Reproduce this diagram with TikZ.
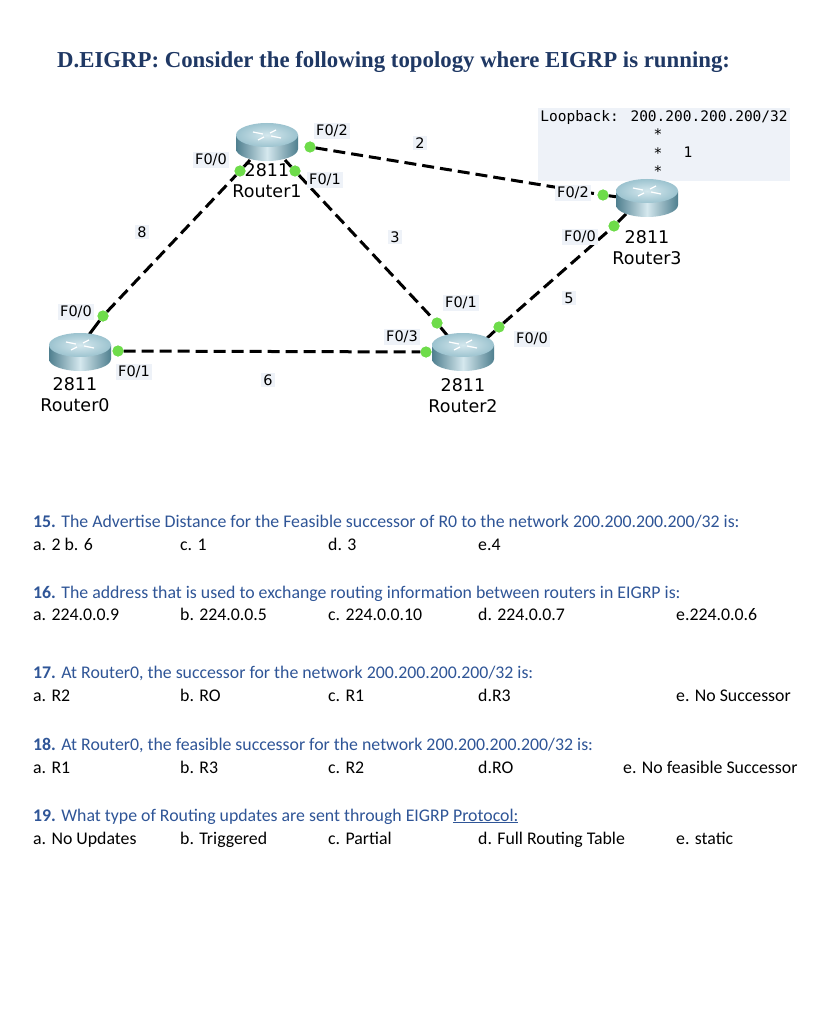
\documentclass[tikz,border=0pt]{standalone}
\usepackage{fontspec}
\setmainfont{Carlito}
\newfontfamily\lbl{DejaVu Sans}
\newfontfamily\ttl{Liberation Serif}
\newfontfamily\mono{DejaVu Sans Mono}
\definecolor{qblue}{HTML}{2F5597}
\definecolor{tblue}{HTML}{1F3864}
\definecolor{lbg}{HTML}{EEF2F8}
\definecolor{dot}{HTML}{6EDC4A}
\definecolor{rdark}{HTML}{4F7F8F}
\definecolor{rmid}{HTML}{9CC3CF}
\definecolor{rlight}{HTML}{D5E8EE}
\begin{document}
\begin{tikzpicture}[x=1pt,y=-1pt,
  link/.style={line width=3pt,dash pattern=on 12pt off 6pt},
  port/.style={circle,fill=dot,inner sep=0pt,minimum size=11pt},
  pl/.style={font=\lbl\fontsize{14.5}{15}\selectfont,fill=lbg,inner sep=2pt},
  rl/.style={font=\lbl\fontsize{17.5}{21}\selectfont,inner sep=0pt,align=center},
  q/.style={font=\fontsize{17.8}{18}\selectfont,anchor=base west,yshift=-6pt,inner sep=0pt,text=qblue},
  o/.style={font=\fontsize{17.8}{18}\selectfont,anchor=base west,yshift=-6pt,inner sep=0pt}]
\useasboundingbox (0,0) rectangle (819,1024);
\fill[white] (0,0) rectangle (819,1024);
\node[font=\ttl\bfseries\fontsize{22.8}{23}\selectfont,text=tblue,anchor=west,inner sep=0pt] (title) at (57,62) {D.EIGRP: Consider the following topology where EIGRP is running:};
% loopback box
\fill[lbg] (538,108) rectangle (790,181);
\node[font=\mono\fontsize{14.5}{15}\selectfont,inner sep=0pt] (lb) at (664,118) {Loopback: 200.200.200.200/32};
\node[font=\mono\fontsize{14.5}{15}\selectfont,inner sep=0pt] (s1) at (658,134) {*};
\node[font=\mono\fontsize{14.5}{15}\selectfont,inner sep=0pt] (s2) at (658,153) {*};
\node[font=\mono\fontsize{14.5}{15}\selectfont,inner sep=0pt] (s3) at (658,171) {*};
\node[font=\mono\fontsize{14.5}{15}\selectfont,inner sep=0pt] (one) at (688,152) {1};
% ports
\node[port] (p0a) at (103,316) {};
\node[port] (p0b) at (118,351) {};
\node[port] (p1a) at (240,171) {};
\node[port] (p1b) at (295,171) {};
\node[port] (p1c) at (310,147) {};
\node[port] (p2a) at (437,323) {};
\node[port] (p2b) at (426,352) {};
\node[port] (p2c) at (499,327) {};
\node[port] (p3a) at (603,195) {};
\node[port] (p3b) at (614,226) {};
% links
\draw[link] (p0a) -- (p1a);
\draw[line width=3pt] (p0a) -- (88,336);
\draw[line width=3pt] (p1a) -- (250,160);
\draw[link] (p0b) -- (p2b);
\draw[link] (p1b) -- (p2a);
\draw[line width=3pt] (p1b) -- (285,160);
\draw[line width=3pt] (p2a) -- (451,340);
\draw[link] (p1c) -- (p3a);
\draw[line width=3pt] (p3a) -- (618,197);
\draw[link] (p2c) -- (p3b);
\draw[line width=3pt] (p2c) -- (484,341);
\draw[line width=3pt] (p3b) -- (626,214);
% router pic
\newcommand\rtr[2]{%
 \begin{scope}[shift={#1}]
 \shade[left color=rdark,right color=rdark,middle color=rlight] (-31,-7) -- (-31,7) arc[start angle=180,end angle=0,x radius=31,y radius=12] -- (31,-7) -- cycle;
 \shade[inner color=rlight,outer color=rmid] (0,-7) ellipse[x radius=31,y radius=12];
 \draw[white,line width=1.2pt] (-14,-10)--(-4,-8) (14,-4)--(4,-6) (-9,-2)--(-3,-5) (9,-12)--(3,-9);
 \coordinate (#2) at (0,0);
 \end{scope}}
\rtr{(80,352)}{r0}
\rtr{(267,142)}{r1}
\rtr{(463,352)}{r2}
\rtr{(647,198)}{r3}
\foreach \p in {p0a,p0b,p1a,p1b,p1c,p2a,p2b,p2c,p3a,p3b} \node[port] at (\p) {};
% labels
\node[pl] (l1) at (76,312) {F0/0};
\node[pl] (l2) at (134,372) {F0/1};
\node[pl] (l3) at (211,160) {F0/0};
\node[pl] (l4) at (332,131) {F0/2};
\node[pl] (l5) at (325,180) {F0/1};
\node[pl] (l6) at (402,337) {F0/3};
\node[pl] (l7) at (461,303) {F0/1};
\node[pl] (l8) at (532,339) {F0/0};
\node[pl] (l9) at (573,193) {F0/2};
\node[pl] (l10) at (580,237) {F0/0};
\node[pl] (c8) at (142,232) {8};
\node[pl] (c3) at (395,237) {3};
\node[pl] (c2) at (420,143) {2};
\node[pl] (c6) at (268,380) {6};
\node[pl] (c5) at (569,298) {5};
\node[rl] (n0) at (75,395) {2811\\Router0};
\node[rl] (n1) at (267,181) {2811\\Router1};
\node[rl] (n2) at (463,396) {2811\\Router2};
\node[rl] (n3) at (647,248) {2811\\Router3};
% questions
\node[q] (q15) at (33,521) {\textbf{15.} The Advertise Distance for the Feasible successor of R0 to the network 200.200.200.200/32 is:};
\node[o] (a15) at (33,544) {a. 2 b. 6};
\node[o] (c15) at (180,544) {c. 1};
\node[o] (d15) at (328,544) {d. 3};
\node[o] (e15) at (478,544) {e.4};
\node[q] (q16) at (33,592) {\textbf{16.} The address that is used to exchange routing information between routers in EIGRP is:};
\node[o] (a16) at (33,614) {a. 224.0.0.9};
\node[o] (b16) at (180,614) {b. 224.0.0.5};
\node[o] (c16) at (328,614) {c. 224.0.0.10};
\node[o] (d16) at (478,614) {d. 224.0.0.7};
\node[o] (e16) at (676,614) {e.224.0.0.6};
\node[q] (q17) at (33,672) {\textbf{17.} At Router0, the successor for the network 200.200.200.200/32 is:};
\node[o] (a17) at (33,695) {a. R2};
\node[o] (b17) at (180,695) {b. RO};
\node[o] (c17) at (328,695) {c. R1};
\node[o] (d17) at (478,695) {d.R3};
\node[o] (e17) at (676,695) {e. No Successor};
\node[q] (q18) at (33,744) {\textbf{18.} At Router0, the feasible successor for the network 200.200.200.200/32 is:};
\node[o] (a18) at (33,767) {a. R1};
\node[o] (b18) at (180,767) {b. R3};
\node[o] (c18) at (328,767) {c. R2};
\node[o] (d18) at (478,767) {d.RO};
\node[o] (e18) at (623,767) {e. No feasible Successor};
\node[q] (q19) at (33,815) {\textbf{19.} What type of Routing updates are sent through EIGRP \underline{Protocol:}};
\node[o] (a19) at (33,838) {a. No Updates};
\node[o] (b19) at (180,838) {b. Triggered};
\node[o] (c19) at (328,838) {c. Partial};
\node[o] (d19) at (478,838) {d. Full Routing Table};
\node[o] (e19) at (676,838) {e. static};
\end{tikzpicture}
\end{document}
